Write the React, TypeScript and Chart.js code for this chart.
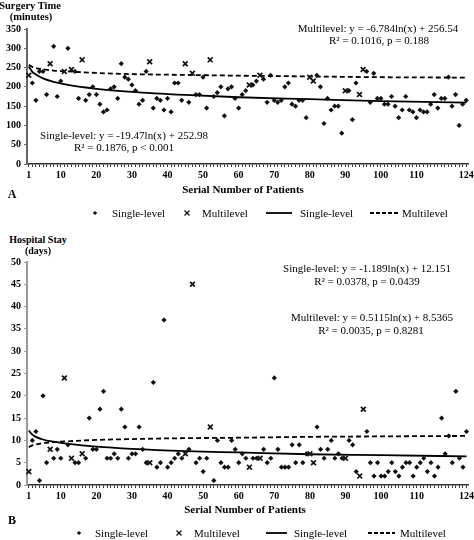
import React, { useEffect, useRef } from "react";
import { Chart, registerables } from "chart.js";

Chart.register(...registerables);

const FONT = "'Liberation Serif', 'Times New Roman', Times, serif";

// x-axis tick labels shown under the patient axis
const xTickLabels = [1, 10, 20, 30, 40, 50, 60, 70, 80, 90, 100, 110, 124];

// patients operated at multiple levels (shown with "x" markers)
const multilevelPatients = [1, 7, 11, 13, 16, 35, 45, 47, 52, 63, 66, 80, 81, 90, 94, 95];

// Panel A: surgery time (minutes) per serial patient number 1..124
const surgeryTime = [
  230, 210, 165, 240, 240, 180, 260, 305, 175, 215,
  240, 300, 245, 240, 170, 270, 165, 180, 200, 180,
  155, 135, 140, 195, 200, 170, 260, 225, 220, 205,
  190, 155, 165, 240, 265, 145, 170, 165, 140, 170,
  135, 210, 210, 165, 260, 160, 235, 180, 180, 225,
  145, 270, 175, 185, 200, 125, 195, 200, 170, 145,
  180, 190, 205, 205, 215, 230, 220, 160, 230, 165,
  160, 165, 200, 210, 155, 150, 165, 165, 120, 225,
  215, 230, 200, 105, 170, 140, 150, 150, 80, 190,
  190, 115, 210, 180, 245, 240, 160, 235, 170, 170,
  155, 155, 175, 150, 120, 140, 175, 140, 135, 120,
  140, 135, 135, 155, 180, 145, 170, 170, 225, 150,
  180, 100, 155, 165,
];

// Panel B: hospital stay (days) per serial patient number 1..124
const hospitalStay = [
  3, 10, 12, 1, 20, 5, 8, 6, 8, 6,
  24, 9, 6, 5, 5, 7, 6, 15, 8, 8,
  17, 21, 6, 6, 7, 6, 17, 13, 6, 7,
  7, 13, 8, 5, 5, 23, 4, 5, 37, 4,
  5, 6, 7, 6, 7, 8, 45, 5, 6, 3,
  6, 13, 1, 10, 5, 4, 4, 10, 8, 5,
  7, 6, 4, 6, 6, 6, 8, 5, 6, 24,
  8, 4, 4, 4, 9, 5, 9, 5, 7, 7,
  5, 13, 8, 6, 8, 10, 6, 7, 6, 6,
  10, 9, 3, 2, 17, 12, 5, 2, 5, 2,
  2, 3, 5, 3, 2, 4, 5, 5, 2, 4,
  5, 6, 3, 5, 2, 4, 15, 7, 11, 5,
  21, 6, 4, 12,
];

// trend curves at these patient numbers
const fitX = [1, 2, 3, 5, 8, 12, 20, 30, 45, 60, 80, 100, 124];
const surgerySingleFit = [253, 239, 232, 222, 213, 205, 195, 187, 179, 173, 168, 163, 159];
const surgeryMultiFit = [257, 252, 249, 246, 242, 240, 236, 233, 231, 229, 227, 225, 224];
const staySingleFit = [12.2, 11.3, 10.8, 10.2, 9.7, 9.2, 8.6, 8.1, 7.6, 7.3, 6.9, 6.7, 6.4];
const stayMultiFit = [8.5, 8.9, 9.1, 9.4, 9.6, 9.8, 10.1, 10.3, 10.5, 10.6, 10.8, 10.9, 11.0];

const surgeryTicks = [0, 50, 100, 150, 200, 250, 300, 350];
const stayTicks = [0, 5, 10, 15, 20, 25, 30, 35, 40, 45, 50];

type PanelProps = {
  values: number[];
  singleFit: number[];
  multiFit: number[];
  yTicks: number[];
  top: number;
  height: number;
  padTop: number;
  padRight: number;
  xHeight: number;
  yAxisColor: string;
};

function ChartPanel(p: PanelProps) {
  const ref = useRef<HTMLCanvasElement>(null);
  useEffect(() => {
    const single: { x: number; y: number }[] = [];
    const multi: { x: number; y: number }[] = [];
    p.values.forEach((v, i) => {
      const n = i + 1;
      (multilevelPatients.includes(n) ? multi : single).push({ x: n, y: v });
    });
    const allPatients = p.values.map((_, i) => i + 1);
    const chart = new Chart(ref.current as HTMLCanvasElement, {
      type: "scatter",
      data: {
        datasets: [
          {
            label: "Single-level",
            data: single,
            pointStyle: "rectRot",
            pointRadius: 2.6,
            backgroundColor: "#111",
            borderColor: "#111",
            borderWidth: 0,
            clip: false,
          } as any,
          {
            label: "Multilevel",
            data: multi,
            pointStyle: "crossRot",
            pointRadius: 3.4,
            backgroundColor: "#111",
            borderColor: "#111",
            borderWidth: 1.7,
            clip: false,
          } as any,
          {
            label: "Single-level trend",
            data: fitX.map((x, i) => ({ x, y: p.singleFit[i] })),
            showLine: true,
            pointRadius: 0,
            borderColor: "#000",
            borderWidth: 1.8,
            cubicInterpolationMode: "monotone",
          } as any,
          {
            label: "Multilevel trend",
            data: fitX.map((x, i) => ({ x, y: p.multiFit[i] })),
            showLine: true,
            pointRadius: 0,
            borderColor: "#000",
            borderWidth: 1.8,
            borderDash: [5, 3],
            cubicInterpolationMode: "monotone",
          } as any,
        ],
      },
      options: {
        responsive: false,
        animation: false,
        events: [],
        layout: { padding: { top: p.padTop, right: p.padRight, left: 0, bottom: 0 } },
        plugins: { legend: { display: false }, tooltip: { enabled: false }, title: { display: false } },
        scales: {
          x: {
            type: "linear",
            min: 0.5,
            max: 124.5,
            afterBuildTicks: (s: any) => {
              s.ticks = allPatients.map((v) => ({ value: v }));
            },
            afterFit: (s: any) => {
              s.height = p.xHeight;
              s.paddingLeft = 0;
              s.paddingRight = 0;
            },
            ticks: {
              autoSkip: false,
              maxRotation: 0,
              minRotation: 0,
              padding: 2,
              color: "#000",
              font: { family: FONT, size: 10, weight: "bold" },
              callback: (v: any) => (xTickLabels.includes(Number(v)) ? String(v) : ""),
            },
            grid: { drawOnChartArea: false, drawTicks: true, tickLength: 3, color: "#333", lineWidth: 1 },
            border: { display: true, color: "#333", width: 1.5 },
          },
          y: {
            min: p.yTicks[0],
            max: p.yTicks[p.yTicks.length - 1],
            afterBuildTicks: (s: any) => {
              s.ticks = p.yTicks.map((v) => ({ value: v }));
            },
            afterFit: (s: any) => {
              s.width = 27;
              s.paddingTop = 0;
              s.paddingBottom = 0;
            },
            ticks: {
              padding: 3,
              color: "#000",
              font: { family: FONT, size: 10, weight: "bold" },
            },
            grid: { drawOnChartArea: false, drawTicks: true, tickLength: 3, color: p.yAxisColor, lineWidth: 1 },
            border: { display: true, color: p.yAxisColor, width: 2 },
          },
        },
      } as any,
    });
    return () => chart.destroy();
  }, []);
  return (
    <canvas
      ref={ref}
      width={474}
      height={p.height}
      style={{ position: "absolute", left: 0, top: p.top, width: 474, height: p.height }}
    />
  );
}

function T(props: { x: number; y: number; size?: number; bold?: boolean; left?: boolean; children: React.ReactNode }) {
  return (
    <div
      style={{
        position: "absolute",
        left: props.x,
        top: props.y,
        transform: props.left ? "translate(0,-50%)" : "translate(-50%,-50%)",
        fontFamily: FONT,
        fontSize: props.size ?? 11,
        fontWeight: props.bold ? "bold" : "normal",
        whiteSpace: "nowrap",
        lineHeight: 1,
        color: "#000",
      }}
    >
      {props.children}
    </div>
  );
}

function Legend(props: { y: number; dot: number; t1: number; cross: number; t2: number; solid: [number, number]; t3: number; dash: [number, number]; t4: number }) {
  const y = props.y;
  return (
    <>
      <svg style={{ position: "absolute", left: 0, top: y - 6, overflow: "visible" }} width={474} height={12}>
        <polygon
          points={`${props.dot},${4} ${props.dot + 2.2},${6} ${props.dot},${8} ${props.dot - 2.2},${6}`}
          fill="#111"
        />
        <line x1={props.cross - 2.5} y1={3.5} x2={props.cross + 2.5} y2={8.5} stroke="#111" strokeWidth={1.2} />
        <line x1={props.cross + 2.5} y1={3.5} x2={props.cross - 2.5} y2={8.5} stroke="#111" strokeWidth={1.2} />
        <line x1={props.solid[0]} y1={6} x2={props.solid[1]} y2={6} stroke="#000" strokeWidth={1.8} />
        <line x1={props.dash[0]} y1={6} x2={props.dash[1]} y2={6} stroke="#000" strokeWidth={1.8} strokeDasharray="4 2" />
      </svg>
      <T x={props.t1} y={y} left>Single-level</T>
      <T x={props.t2} y={y} left>Multilevel</T>
      <T x={props.t3} y={y} left>Single-level</T>
      <T x={props.t4} y={y} left>Multilevel</T>
    </>
  );
}

export default function App() {
  return (
    <div
      style={{
        position: "absolute",
        left: 0,
        top: 0,
        width: 474,
        height: 540,
        background: "#fff",
        overflow: "hidden",
      }}
    >
      {/* Panel A */}
      <ChartPanel
        values={surgeryTime}
        singleFit={surgerySingleFit}
        multiFit={surgeryMultiFit}
        yTicks={surgeryTicks}
        top={0}
        height={184}
        padTop={29}
        padRight={6}
        xHeight={20}
        yAxisColor="#666"
      />
      <T x={30} y={6} size={10.5} bold>Surgery Time</T>
      <T x={31} y={17} size={10.5} bold>(minutes)</T>
      <T x={378} y={28} size={11}>Multilevel: y = -6.784ln(x) + 256.54</T>
      <T x={379} y={40} size={11}>R² = 0.1016, p = 0.188</T>
      <T x={124} y={135} size={11}>Single-level: y = -19.47ln(x) + 252.98</T>
      <T x={124} y={147} size={11}>R² = 0.1876, p &lt; 0.001</T>
      <T x={243} y={189} size={11} bold>Serial Number of Patients</T>
      <T x={12} y={194} size={12} bold>A</T>
      <Legend y={213} dot={95} t1={112} cross={187} t2={202} solid={[266, 292]} t3={300} dash={[370, 398]} t4={402} />

      {/* Panel B */}
      <ChartPanel
        values={hospitalStay}
        singleFit={staySingleFit}
        multiFit={stayMultiFit}
        yTicks={stayTicks}
        top={250}
        height={255}
        padTop={12}
        padRight={2}
        xHeight={20}
        yAxisColor="#999"
      />
      <T x={38} y={240} size={10} bold>Hospital Stay</T>
      <T x={38} y={251} size={10} bold>(days)</T>
      <T x={367} y={268} size={11}>Single-level: y = -1.189ln(x) + 12.151</T>
      <T x={367} y={281} size={11}>R² = 0.0378, p = 0.0439</T>
      <T x={372} y={317} size={11}>Multilevel: y = 0.5115ln(x) + 8.5365</T>
      <T x={371} y={330} size={11}>R² = 0.0035, p = 0.8281</T>
      <T x={245} y={509} size={11} bold>Serial Number of Patients</T>
      <T x={12} y={520} size={12} bold>B</T>
      <Legend y={533} dot={79} t1={95} cross={179} t2={194} solid={[266, 287]} t3={294} dash={[368, 395]} t4={400} />
    </div>
  );
}
